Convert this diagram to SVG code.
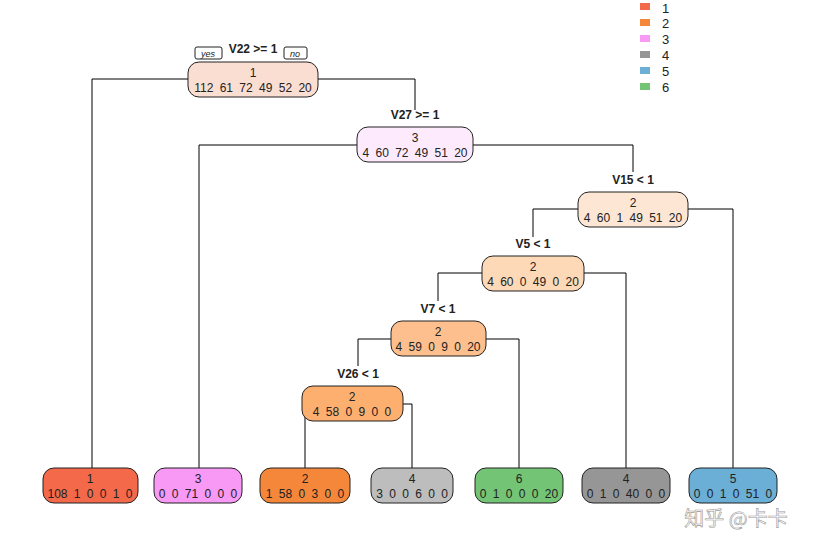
<svg xmlns="http://www.w3.org/2000/svg" width="822" height="540" viewBox="0 0 822 540">
<style>
text{font-family:"Liberation Sans",Arial,sans-serif;font-size:12px;text-anchor:middle;fill:#222;word-spacing:3px}
.b{font-weight:bold;word-spacing:0}
.n{stroke:#222;stroke-width:1}
#edges path{fill:none;stroke:#000;stroke-width:1}
.lg{text-anchor:start;font-size:13px}
</style>
<rect width="822" height="540" fill="#fff"/>
<g id="edges">
<path d="M188 79H92V468M318 79H415V110"/>
<path d="M357 145H199V468M473 145H633V172"/>
<path d="M578 209H533V237M688 209H733V468"/>
<path d="M482 273H438V301M584 273H626V468"/>
<path d="M391 339H358V366M486 339H519V468"/>
<path d="M302 404H305V468M403 404H412V468"/>
</g>
<g id="root"><rect class="n" x="188" y="62" width="130" height="35" rx="11" fill="#FBDED2"/><text x="253" y="77">1</text><text x="253" y="92">112 61 72 49 52 20</text>
<text class="b" x="253" y="53">V22 &gt;= 1</text>
<rect x="195" y="47" width="27" height="12" rx="2" fill="#fff" stroke="#222"/><text x="208" y="57" style="font-size:9px;font-style:italic">yes</text>
<rect x="284" y="47" width="23" height="12" rx="2" fill="#fff" stroke="#222"/><text x="295" y="57" style="font-size:9px;font-style:italic">no</text></g>
<g id="n3"><text class="b" x="415" y="119">V27 &gt;= 1</text><rect class="n" x="357" y="127" width="116" height="35" rx="11" fill="#FDEBFD"/><text x="415" y="142">3</text><text x="415" y="157">4 60 72 49 51 20</text></g>
<g id="n15"><text class="b" x="633" y="184">V15 &lt; 1</text><rect class="n" x="578" y="192" width="110" height="35" rx="11" fill="#FDE6D3"/><text x="633" y="207">2</text><text x="633" y="222">4 60 1 49 51 20</text></g>
<g id="n5"><text class="b" x="533" y="248">V5 &lt; 1</text><rect class="n" x="482" y="256" width="102" height="35" rx="11" fill="#FDD9B8"/><text x="533" y="271">2</text><text x="533" y="286">4 60 0 49 0 20</text></g>
<g id="n7"><text class="b" x="438" y="313">V7 &lt; 1</text><rect class="n" x="391" y="321" width="95" height="35" rx="11" fill="#FDBF8E"/><text x="438" y="336">2</text><text x="438" y="351">4 59 0 9 0 20</text></g>
<g id="n26"><text class="b" x="358" y="378">V26 &lt; 1</text><rect class="n" x="302" y="386" width="101" height="35" rx="11" fill="#FDAF70"/><text x="352" y="401">2</text><text x="352" y="416">4 58 0 9 0 0</text></g>
<g id="l1"><rect class="n" x="43" y="468" width="95" height="35" rx="11" fill="#F4694A"/><text x="90" y="483">1</text><text x="90" y="498">108 1 0 0 1 0</text></g>
<g id="l3"><rect class="n" x="154" y="468" width="88" height="35" rx="11" fill="#F899F5"/><text x="198" y="483">3</text><text x="198" y="498">0 0 71 0 0 0</text></g>
<g id="l2"><rect class="n" x="260" y="468" width="90" height="35" rx="11" fill="#F5873B"/><text x="305" y="483">2</text><text x="305" y="498">1 58 0 3 0 0</text></g>
<g id="l4a"><rect class="n" x="371" y="468" width="82" height="35" rx="11" fill="#BDBDBD"/><text x="412" y="483">4</text><text x="412" y="498">3 0 0 6 0 0</text></g>
<g id="l6"><rect class="n" x="475" y="468" width="88" height="35" rx="11" fill="#74C476"/><text x="519" y="483">6</text><text x="519" y="498">0 1 0 0 0 20</text></g>
<g id="l4b"><rect class="n" x="582" y="468" width="88" height="35" rx="11" fill="#969696"/><text x="626" y="483">4</text><text x="626" y="498">0 1 0 40 0 0</text></g>
<g id="l5"><rect class="n" x="689" y="468" width="88" height="35" rx="11" fill="#6BAED6"/><text x="733" y="483">5</text><text x="733" y="498">0 0 1 0 51 0</text></g>
<g id="legend">
<rect x="640" y="3" width="10" height="7" fill="#F4694A"/><text class="lg" x="662" y="13">1</text>
<rect x="640" y="19" width="10" height="7" fill="#F5873B"/><text class="lg" x="662" y="28">2</text>
<rect x="640" y="35" width="10" height="7" fill="#F899F5"/><text class="lg" x="662" y="44">3</text>
<rect x="640" y="51" width="10" height="7" fill="#969696"/><text class="lg" x="662" y="60">4</text>
<rect x="640" y="67" width="10" height="7" fill="#6BAED6"/><text class="lg" x="662" y="76">5</text>
<rect x="640" y="83" width="10" height="7" fill="#74C476"/><text class="lg" x="662" y="92">6</text>
</g>
<text x="736" y="526" style="font-family:'Noto Sans CJK SC',sans-serif;font-size:20px;fill:#fff;fill-opacity:0.75;stroke:#999;stroke-width:0.6;word-spacing:0">知乎 @卡卡</text>
</svg>
